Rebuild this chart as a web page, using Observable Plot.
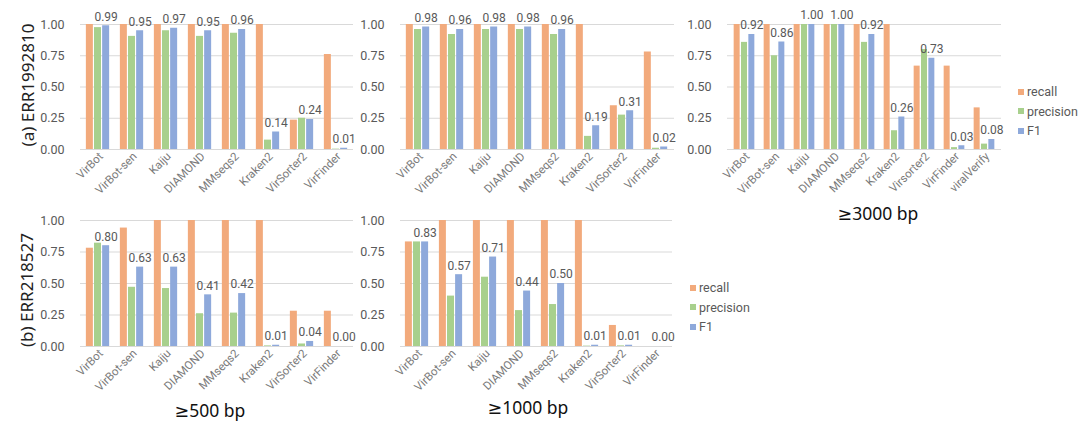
<!DOCTYPE html>
<html>
<head>
<meta charset="utf-8">
<script src="https://cdn.jsdelivr.net/npm/d3@7"></script>
<script src="https://cdn.jsdelivr.net/npm/@observablehq/plot@0.6"></script>
<style>
  body { margin: 0; background: #fff; }
  #wrap { position: relative; width: 1080px; height: 430px; overflow: hidden; background: #fff;
          font-family: "Noto Sans", "DejaVu Sans", sans-serif; }
  .panel { position: absolute; }
  .rowlab { position: absolute; font-size: 17px; color: #222; white-space: nowrap;
            transform: translate(-50%, -50%) rotate(-90deg); }
  .title { position: absolute; font-size: 17.5px; color: #111; white-space: nowrap; transform: translate(-50%, -50%); }
  .legend { position: absolute; font-size: 12.5px; color: #595959; font-family: Roboto, "Noto Sans", sans-serif; }
  .legend div { height: 19.5px; line-height: 19.5px; white-space: nowrap; }
  .legend span.sw { display: inline-block; width: 6px; height: 6px; margin-right: 3px; vertical-align: middle; position: relative; top: -1px; }
</style>
</head>
<body>
<div id="wrap"></div>
<script>
// ---------- data ----------
const metrics = ["recall", "precision", "F1"];
const colors = ["#F2AA7C", "#A8D08D", "#8EA9DB"];
const tools8 = ["VirBot", "VirBot-sen", "Kaiju", "DIAMOND", "MMseqs2", "Kraken2", "VirSorter2", "VirFinder"];
const tools9 = ["VirBot", "VirBot-sen", "Kaiju", "DIAMOND", "MMseqs2", "Kraken2", "Virsorter2", "VirFinder", "viralVerify"];
const yTicks = [0, 0.25, 0.5, 0.75, 1];

// (a) ERR1992810, >=500 bp
const a500Recall    = [1.00, 1.00, 1.00, 1.00, 1.00, 1.00, 0.235, 0.76];
const a500Precision = [0.975, 0.905, 0.95, 0.905, 0.93, 0.075, 0.25, 0.003];
const a500F1        = [0.99, 0.95, 0.97, 0.95, 0.96, 0.14, 0.24, 0.01];
// (a) ERR1992810, >=1000 bp
const a1000Recall    = [1.00, 1.00, 1.00, 1.00, 1.00, 1.00, 0.35, 0.78];
const a1000Precision = [0.96, 0.92, 0.96, 0.96, 0.92, 0.105, 0.275, 0.01];
const a1000F1        = [0.98, 0.96, 0.98, 0.98, 0.96, 0.19, 0.31, 0.02];
// (a) ERR1992810, >=3000 bp
const a3000Recall    = [1.00, 1.00, 1.00, 1.00, 1.00, 1.00, 0.667, 0.667, 0.333];
const a3000Precision = [0.857, 0.75, 1.00, 1.00, 0.857, 0.15, 0.80, 0.015, 0.043];
const a3000F1        = [0.92, 0.86, 1.00, 1.00, 0.92, 0.26, 0.73, 0.03, 0.08];
// (b) ERR218527, >=500 bp
const b500Recall    = [0.78, 0.94, 1.00, 1.00, 1.00, 1.00, 0.28, 0.28];
const b500Precision = [0.82, 0.47, 0.46, 0.26, 0.265, 0.005, 0.02, 0.0];
const b500F1        = [0.80, 0.63, 0.63, 0.41, 0.42, 0.01, 0.04, 0.00];
// (b) ERR218527, >=1000 bp
const b1000Recall    = [0.83, 1.00, 1.00, 1.00, 1.00, 1.00, 0.167, 0.0];
const b1000Precision = [0.83, 0.40, 0.55, 0.285, 0.333, 0.003, 0.005, 0.0];
const b1000F1        = [0.83, 0.57, 0.71, 0.44, 0.50, 0.01, 0.01, 0.00];

// ---------- drawing ----------
const wrap = document.getElementById("wrap");
const FONT = `Roboto, "Noto Sans", "DejaVu Sans", sans-serif`;

function panel(cats, recall, precision, f1, box) {
  const rows = [];
  cats.forEach((c, i) => {
    rows.push({tool: c, metric: "recall", v: recall[i]});
    rows.push({tool: c, metric: "precision", v: precision[i]});
    rows.push({tool: c, metric: "F1", v: f1[i]});
  });
  const frameW = box.width - box.ml - box.mr;
  const step = frameW / cats.length;
  const bw = step * 0.215;
  const gap = bw + 0.8;
  const off = {recall: -gap, precision: 0, F1: gap};
  const barFor = (m) => Plot.barY(rows.filter(d => d.metric === m),
      {x: "tool", y: "v", fill: colors[metrics.indexOf(m)], dx: off[m]});
  const svg = Plot.plot({
    width: box.width, height: box.height,
    marginLeft: box.ml, marginRight: box.mr, marginTop: box.mt, marginBottom: box.mb,
    style: {fontFamily: FONT, background: "transparent", overflow: "visible"},
    x: {domain: cats, paddingInner: 0.785, paddingOuter: 0.3925, align: 0.5, label: null},
    y: {domain: [0, 1], label: null},
    marks: [
      Plot.gridY(yTicks, {stroke: "#d9d9d9", strokeOpacity: 1, strokeWidth: 1}),
      Plot.axisY(yTicks, {tickFormat: d3.format(".2f"), tickSize: 0, tickPadding: 16,
                          fontSize: 12.5, fill: "#595959", label: null}),
      barFor("recall"), barFor("precision"), barFor("F1"),
      Plot.text(rows.filter(d => d.metric === "F1"), {
        x: "tool", y: "v", text: d => d3.format(".2f")(d.v), dx: gap, dy: -9,
        fontSize: 12, fill: "#595959"}),
      Plot.axisX({tickRotate: -45, tickSize: 0, tickPadding: 5, fontSize: 11.5,
                  fill: "#7a7a7a", label: null, dx: 3})
    ]
  });
  svg.classList.add("panel");
  svg.style.left = box.left + "px";
  svg.style.top = box.top + "px";
  wrap.appendChild(svg);
}

panel(tools8, a500Recall, a500Precision, a500F1,   {left: 0,   top: 0,   width: 363, height: 210, ml: 80, mr: 10, mt: 24, mb: 61});
panel(tools8, a1000Recall, a1000Precision, a1000F1,{left: 360, top: 0,   width: 322, height: 210, ml: 40, mr: 8,  mt: 24, mb: 61});
panel(tools9, a3000Recall, a3000Precision, a3000F1,{left: 690, top: 0,   width: 319, height: 210, ml: 37, mr: 8,  mt: 24, mb: 61});
panel(tools8, b500Recall, b500Precision, b500F1,   {left: 0,   top: 196, width: 363, height: 210, ml: 80, mr: 10, mt: 24, mb: 60});
panel(tools8, b1000Recall, b1000Precision, b1000F1,{left: 360, top: 196, width: 320, height: 210, ml: 40, mr: 8,  mt: 24, mb: 60});

function addText(cls, txt, x, y) {
  const d = document.createElement("div");
  d.className = cls; d.textContent = txt;
  d.style.left = x + "px"; d.style.top = y + "px";
  wrap.appendChild(d);
}
addText("rowlab", "(a) ERR1992810", 27, 85);
addText("rowlab", "(b) ERR218527", 26, 290);
addText("title", "≥3000 bp", 878, 213);
addText("title", "≥500 bp", 210, 410);
addText("title", "≥1000 bp", 528, 407);

function legend(x, y) {
  const l = document.createElement("div");
  l.className = "legend";
  l.style.left = x + "px"; l.style.top = y + "px";
  metrics.forEach((m, i) => {
    const r = document.createElement("div");
    const s = document.createElement("span");
    s.className = "sw"; s.style.background = colors[i];
    r.appendChild(s);
    r.appendChild(document.createTextNode(m));
    l.appendChild(r);
  });
  wrap.appendChild(l);
}
legend(1018, 82);
legend(690, 278);
</script>
</body>
</html>
